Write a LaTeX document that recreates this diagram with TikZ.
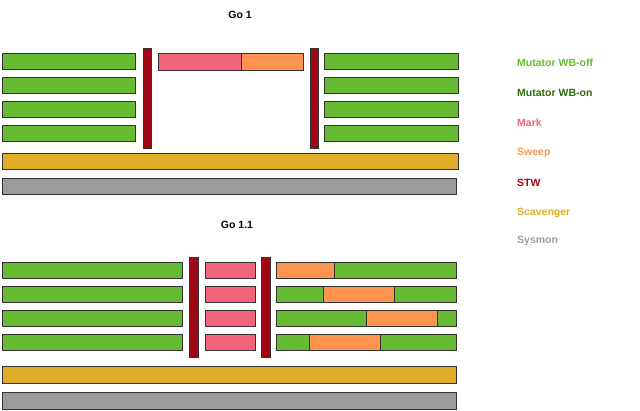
\documentclass[tikz,border=0pt]{standalone}
\usepackage{fontspec}
\setmainfont{Liberation Sans}
\begin{document}
\begin{tikzpicture}[x=1pt,y=-1pt,
 bar/.style={draw=black!80,line width=0.5pt},
 lbl/.style={font=\bfseries\fontsize{10.5}{12}\selectfont,anchor=west,inner sep=0},
 ttl/.style={font=\bfseries\fontsize{10.5}{12}\selectfont,inner sep=0}]
\definecolor{mg}{HTML}{66BB33}
\definecolor{dg}{HTML}{2E6B10}
\definecolor{mk}{HTML}{F26479}
\definecolor{sw}{HTML}{FF9350}
\definecolor{st}{HTML}{A00714}
\definecolor{sc}{HTML}{E0AD28}
\definecolor{sy}{HTML}{9B9B9B}
\useasboundingbox (0,0) rectangle (640,411);
\node[ttl] (t1) at (240,15) {Go 1};
\node[ttl] (t2) at (237,225) {Go 1.1};
% Go 1
\foreach \y in {53,77,101,125}{
 \draw[bar,fill=mg] (2,\y) rectangle (135,\y+16);
 \draw[bar,fill=mg] (324,\y) rectangle (458,\y+16);
}
\draw[bar,fill=st] (143,48) rectangle (151,148);
\draw[bar,fill=st] (310,48) rectangle (318,148);
\draw[bar,fill=mk] (158,53) rectangle (241,70);
\draw[bar,fill=sw] (241,53) rectangle (303,70);
\draw[bar,fill=sc] (2,153) rectangle (458,169);
\draw[bar,fill=sy] (2,178) rectangle (456,194);
% Go 1.1
\foreach \y in {262,286,310,334}{
 \draw[bar,fill=mg] (2,\y) rectangle (182,\y+16);
 \draw[bar,fill=mk] (205,\y) rectangle (255,\y+16);
}
\draw[bar,fill=st] (189,257) rectangle (198,357);
\draw[bar,fill=st] (261,257) rectangle (270,357);
\draw[bar,fill=sw] (276,262) rectangle (334,278);
\draw[bar,fill=mg] (334,262) rectangle (456,278);
\draw[bar,fill=mg] (276,286) rectangle (323,302);
\draw[bar,fill=sw] (323,286) rectangle (394,302);
\draw[bar,fill=mg] (394,286) rectangle (456,302);
\draw[bar,fill=mg] (276,310) rectangle (366,326);
\draw[bar,fill=sw] (366,310) rectangle (437,326);
\draw[bar,fill=mg] (437,310) rectangle (456,326);
\draw[bar,fill=mg] (276,334) rectangle (309,350);
\draw[bar,fill=sw] (309,334) rectangle (380,350);
\draw[bar,fill=mg] (380,334) rectangle (456,350);
\draw[bar,fill=sc] (2,366) rectangle (456,383);
\draw[bar,fill=sy] (2,392) rectangle (456,409);
% legend
\node[lbl,text=mg] (l1) at (517,63) {Mutator WB-off};
\node[lbl,text=dg] (l2) at (517,93) {Mutator WB-on};
\node[lbl,text=mk] (l3) at (517,123) {Mark};
\node[lbl,text=sw] (l4) at (517,153) {Sweep};
\node[lbl,text=st] (l5) at (517,183) {STW};
\node[lbl,text=sc] (l6) at (517,213) {Scavenger};
\node[lbl,text=sy] (l7) at (517,241) {Sysmon};
\end{tikzpicture}
\end{document}
